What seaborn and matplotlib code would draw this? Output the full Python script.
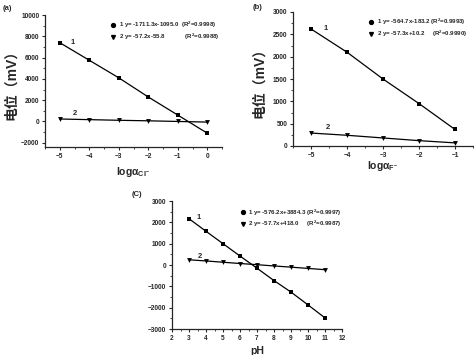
import numpy as np
import pandas as pd
import matplotlib
matplotlib.use("Agg")
import matplotlib.pyplot as plt
from matplotlib.lines import Line2D
from matplotlib.ticker import MultipleLocator
import seaborn as sns

# ---------------------------------------------------------
# data
# ---------------------------------------------------------
a_x = [-5, -4, -3, -2, -1, 0]
a_s1 = [7400, 5750, 4100, 2300, 600, -1100]
a_s2 = [230, 170, 110, 60, 0, -60]
a_labels = ["1 y= -1711.3x-1095.0  (R$^2$=0.9998)",
            "2 y= -57.2x-55.8            (R$^2$=0.9988)"]

b_x = [-5, -4, -3, -2, -1]
b_s1 = [2620, 2100, 1500, 950, 370]
b_s2 = [290, 240, 180, 120, 70]
b_labels = ["1 y= -564.7x-183.2 (R$^2$=0.9993)",
            "2 y= -57.3x+10.2     (R$^2$=0.9990)"]

c_x = [3, 4, 5, 6, 7, 8, 9, 10, 11]
c_s1 = [2170, 1580, 1000, 420, -150, -730, -1270, -1870, -2480]
c_s2 = [245, 190, 130, 70, 15, -45, -100, -160, -220]
c_labels = ["1 y= -576.2x+3884.3 (R$^2$=0.9997)",
            "2 y= -57.7x+418.0     (R$^2$=0.9987)"]

sns.set_theme(style="ticks")
plt.rcParams["font.family"] = ["Liberation Sans", "Noto Sans CJK SC", "DejaVu Sans"]
plt.rcParams["font.weight"] = "bold"
plt.rcParams["mathtext.fontset"] = "custom"
plt.rcParams["mathtext.rm"] = "Liberation Sans:bold"
plt.rcParams["mathtext.it"] = "Liberation Sans:bold"
plt.rcParams["mathtext.bf"] = "Liberation Sans:bold"

fig = plt.figure(figsize=(4.74, 3.55), dpi=100)


def panel(rect, x, s1, s2, labels, xlim, ylim, ymaj, ymin, leg_xy, lab1, lab2):
    ax = fig.add_axes(rect)
    df = pd.DataFrame({"x": x, "s1": s1, "s2": s2})
    sns.lineplot(data=df, x="x", y="s1", ax=ax, color="black", lw=0.9,
                 marker="s", markersize=3, markeredgewidth=0)
    sns.lineplot(data=df, x="x", y="s2", ax=ax, color="black", lw=0.9,
                 marker="v", markersize=3.5, markeredgewidth=0)
    ax.set_xlim(*xlim)
    ax.set_ylim(*ylim)
    ax.xaxis.set_major_locator(MultipleLocator(1))
    ax.xaxis.set_minor_locator(MultipleLocator(0.5))
    ax.yaxis.set_major_locator(MultipleLocator(ymaj))
    ax.yaxis.set_minor_locator(MultipleLocator(ymin))
    ax.tick_params(which="major", direction="out", length=2.5, width=0.8,
                   labelsize=4.7, pad=1.5)
    ax.tick_params(which="minor", direction="out", length=1.3, width=0.6)
    for lbl in ax.get_xticklabels() + ax.get_yticklabels():
        lbl.set_fontweight("bold")
    sns.despine(ax=ax)
    for sp in ax.spines.values():
        sp.set_linewidth(0.9)
    ax.set_xlabel("")
    ax.set_ylabel("")
    handles = [Line2D([], [], marker="o", ls="none", color="black", ms=2.8),
               Line2D([], [], marker="v", ls="none", color="black", ms=2.8)]
    ax.legend(handles, labels, loc="upper left", bbox_to_anchor=leg_xy,
              frameon=False, handlelength=1, handletextpad=0.4,
              borderpad=0, labelspacing=0.25, prop={"weight": "bold", "size": 4.4})
    ax.text(lab1[0], lab1[1], "1", fontsize=5.5, fontweight="bold")
    ax.text(lab2[0], lab2[1], "2", fontsize=5.5, fontweight="bold")
    return ax


ax_a = panel([45 / 474, 1 - 147 / 355, 177 / 474, 132 / 355],
             a_x, a_s1, a_s2, a_labels, (-5.5, 0.5), (-2400, 10000), 2000, 1000,
             (0.35, 0.985), (-4.62, 7300), (-4.55, 650))
ax_b = panel([293 / 474, 1 - 146 / 355, 180 / 474, 134 / 355],
             b_x, b_s1, b_s2, b_labels, (-5.5, -0.5), (0, 3000), 500, 250,
             (0.40, 0.985), (-4.65, 2600), (-4.6, 370))
ax_c = panel([172 / 474, 1 - 329 / 355, 170 / 474, 128 / 355],
             c_x, c_s1, c_s2, c_labels, (2, 12), (-3000, 3000), 1000, 500,
             (0.38, 0.975), (3.45, 2150), (3.5, 320))

ax_a.set_xlabel(r"log$\alpha_{Cl^{-}}$", fontsize=7.5, fontweight="bold", labelpad=4)
ax_b.set_xlabel(r"log$\alpha_{F^{-}}$", fontsize=7.5, fontweight="bold", labelpad=0.5)
ax_c.set_xlabel("pH", fontsize=7.5, fontweight="bold", labelpad=3)
ax_a.set_ylabel("电位（mV）", fontsize=10, fontweight="bold", labelpad=2)
ax_b.set_ylabel("电位（mV）", fontsize=10, fontweight="bold", labelpad=5)

fig.text(3 / 474, 1 - 10 / 355, "(a)", fontsize=5.5, fontweight="bold")
fig.text(253 / 474, 1 - 9 / 355, "(b)", fontsize=5.5, fontweight="bold")
fig.text(132 / 474, 1 - 196 / 355, "(C)", fontsize=5.5, fontweight="bold")

fig.savefig("out.png", dpi=100)
